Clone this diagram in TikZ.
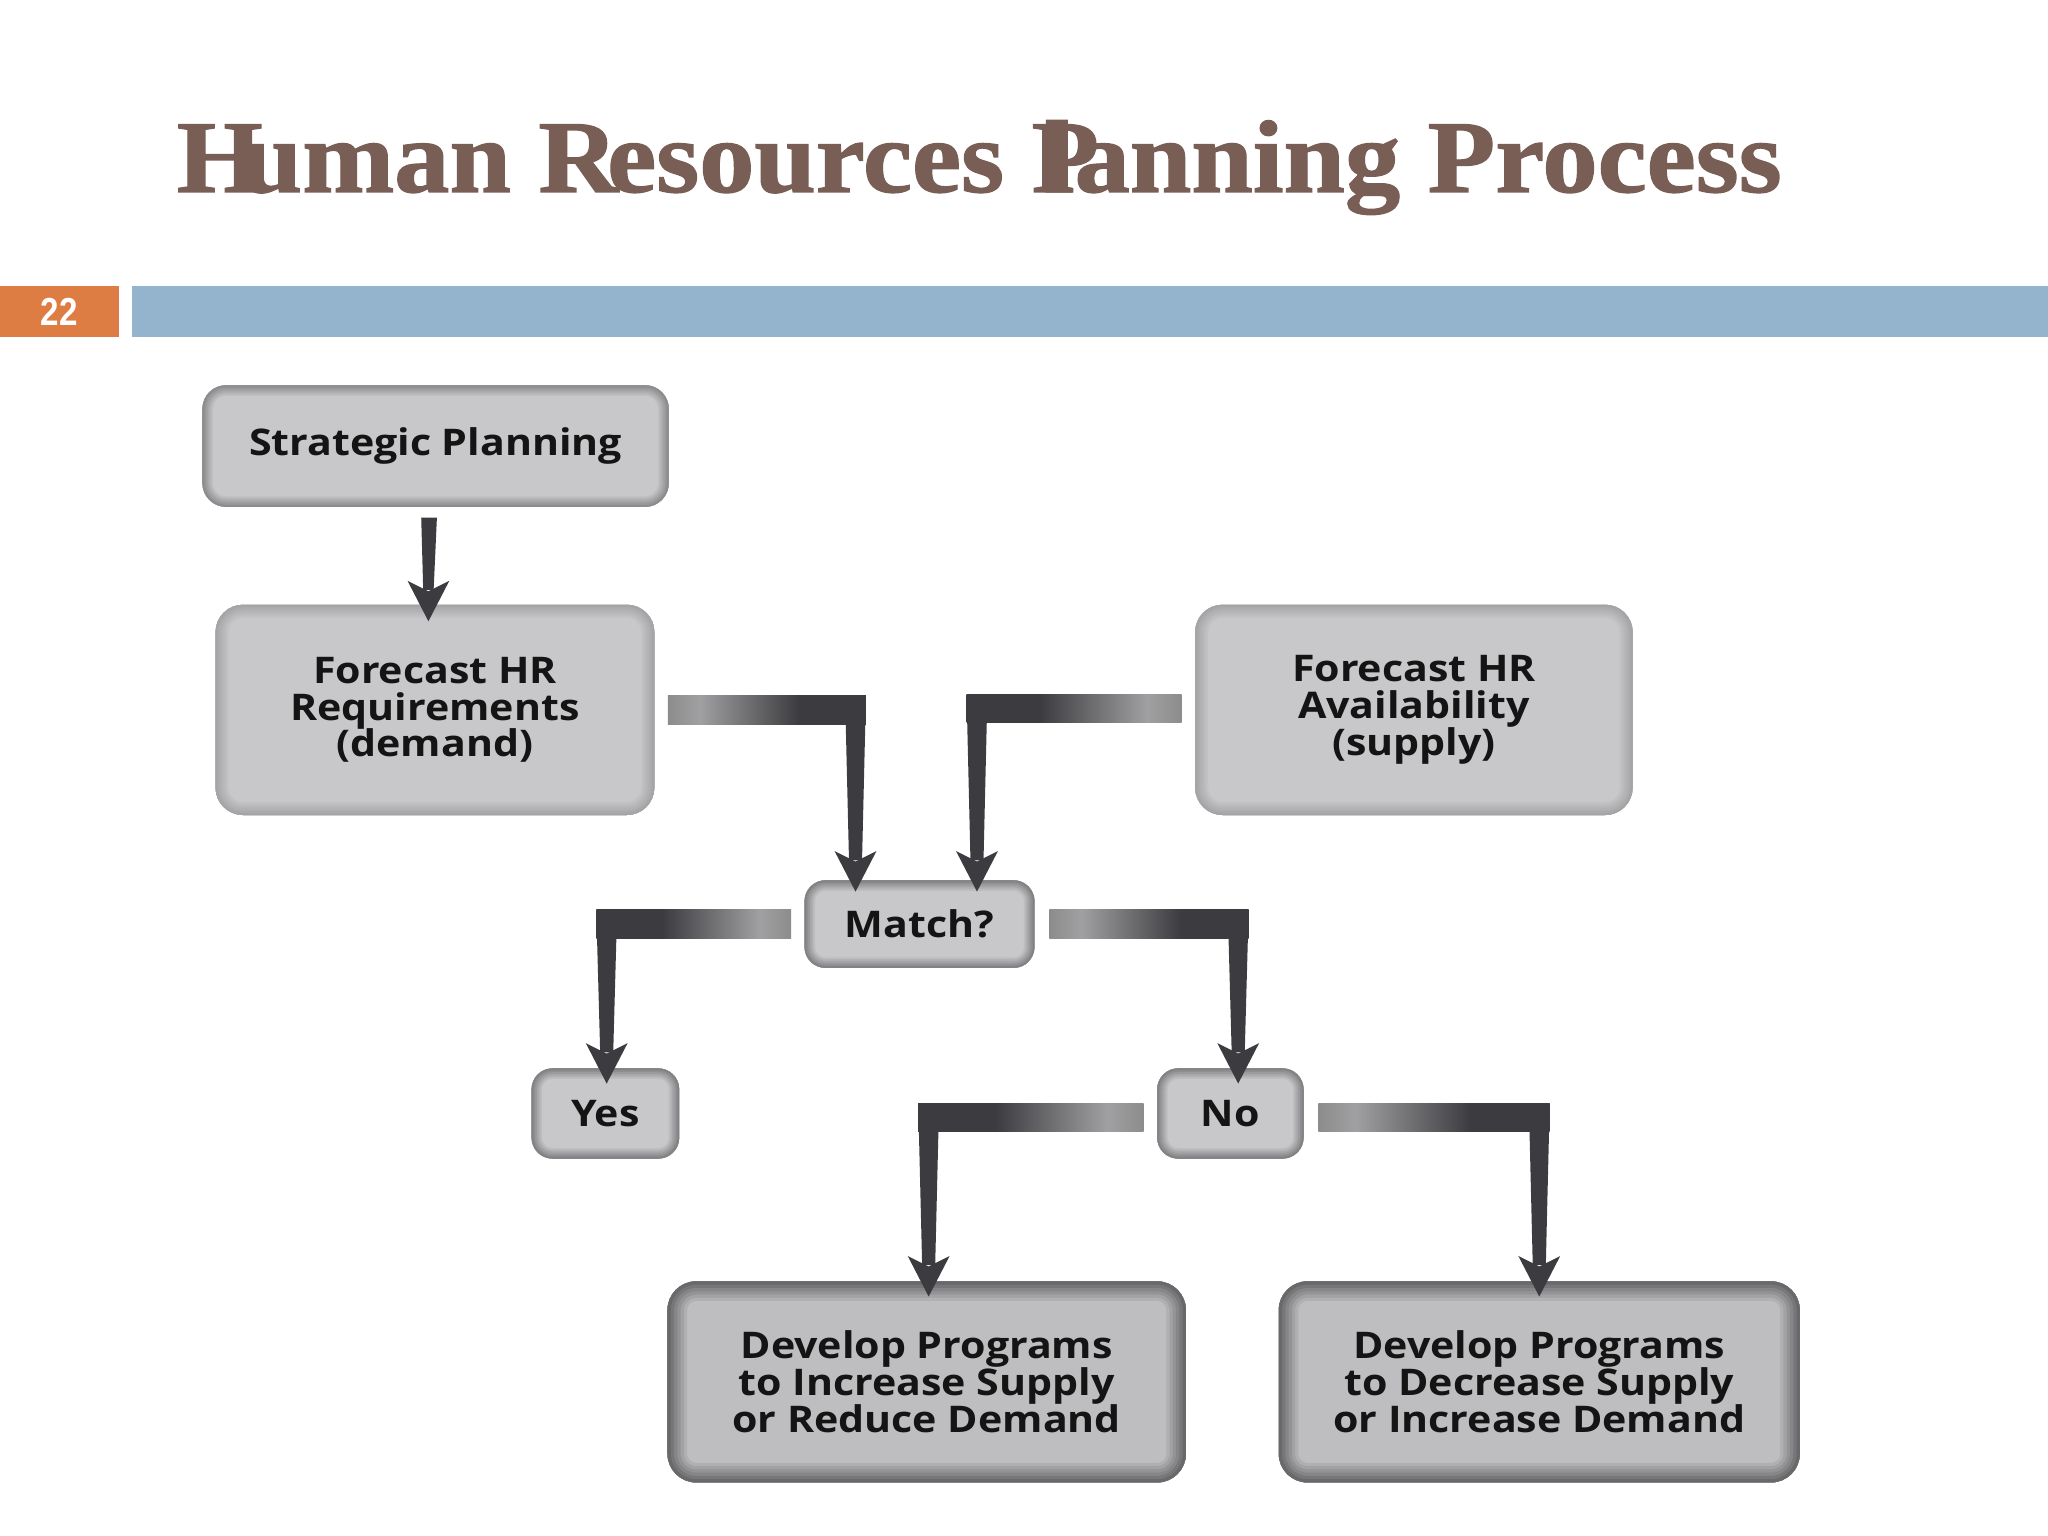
\documentclass[tikz,border=0pt]{standalone}
\usepackage{fontspec}
\setmainfont{Open Sans}
\newfontfamily\boxfont[FakeStretch=1.12]{Open Sans}
\newfontfamily\titlefont[FakeBold=1.2]{Liberation Serif}
\newfontfamily\numfont{Liberation Sans}
\usetikzlibrary{calc}
\definecolor{titlebrown}{RGB}{120,94,84}
\definecolor{orng}{RGB}{222,125,67}
\definecolor{barblue}{RGB}{148,180,206}
\definecolor{boxfill}{RGB}{200,200,202}
\definecolor{devfill}{RGB}{190,190,192}
\definecolor{arrowdark}{RGB}{60,60,64}
\definecolor{barA}{RGB}{140,140,140}
\definecolor{barB}{RGB}{160,160,162}
\definecolor{edgeSP}{RGB}{140,140,142}
\definecolor{edgeFC}{RGB}{165,165,167}
\definecolor{edgeSM}{RGB}{130,130,132}
\definecolor{edgeDV}{RGB}{105,105,107}
\pgfdeclarehorizontalshading{barR}{100bp}{color(0bp)=(barA); color(25bp)=(barA); color(33bp)=(barB); color(58bp)=(arrowdark); color(100bp)=(arrowdark)}
\pgfdeclarehorizontalshading{barL}{100bp}{color(0bp)=(arrowdark); color(42bp)=(arrowdark); color(67bp)=(barB); color(75bp)=(barA); color(100bp)=(barA)}
\tikzset{
  boxtext/.style={inner sep=0pt, align=center, text=black!92,
    font={\boxfont\bfseries\fontsize{16}{16}\selectfont}},
  % #1 edge colour, #2 fill colour, #3 bevel depth (cm), #4 corner radius (cm)
  bevelbox/.style n args={4}{boxtext, fill=#2, rounded corners=#4,
    path picture={
      \foreach \f [evaluate=\f as \lw using (7-\f)*#3/3,
                   evaluate=\f as \pc using int(\f*100/6)] in {1,...,6}{
        \draw[line width=\lw cm, draw=#1!\pc!#2, rounded corners=#4]
          (path picture bounding box.south west) rectangle (path picture bounding box.north east);
      }
    }},
}
\newcommand{\elbowarrow}[4]{%
  \shade[shading=#4] ($(#1)+(0,-11)$) -- ($(#2|-#1)+({#3*8},-11)$) -- ($(#2|-#1)+({#3*8},11)$) -- ($(#1)+(0,11)$) -- cycle;
  \fill[arrowdark] ($(#2|-#1)+(-8,-11)$) -- ($(#2|-#1)+(8,-11)$) -- ($(#2)+(5,-24)$) -- ($(#2)+(-5,-24)$) -- cycle;
  \fill[arrowdark] (#2) -- ($(#2)+(-16,-31)$) -- ($(#2)+(0,-23)$) -- ($(#2)+(16,-31)$) -- cycle;
}
\begin{document}
\begin{tikzpicture}[x=0.02cm, y=-0.02cm]
\useasboundingbox (0,0) rectangle (1568,1176);
\fill[white] (0,0) rectangle (1568,1176);

% title and header bar
\node[anchor=base west, inner sep=0pt, text=titlebrown,
  font={\titlefont\bfseries\fontsize{45}{45}\selectfont}] (title) at (135,147)
  {\scalebox{1.07}[1]{H\kern-.2em uman R\kern-.1em esources P\kern-.5em lanning Process}};
\node[fill=orng, minimum width=1.82cm, minimum height=0.78cm, inner sep=0pt,
  text=white, font={\numfont\bfseries\fontsize{17}{17}\selectfont}] (num) at (45.5,238.5)
  {\scalebox{0.85}[1]{22}};
\node[fill=barblue, minimum width=29.34cm, minimum height=0.78cm, inner sep=0pt] (bar) at (834.5,238.5) {};

% boxes
\node[bevelbox={edgeSP}{boxfill}{0.16}{0.36cm}, minimum width=7.14cm, minimum height=1.86cm] (sp) at (333.5,341.5) {Strategic Planning};
\node[bevelbox={edgeFC}{boxfill}{0.2}{0.42cm}, minimum width=6.72cm, minimum height=3.22cm] (fr) at (333,543.5) {Forecast HR\\Requirements\\(demand)};
\node[bevelbox={edgeFC}{boxfill}{0.2}{0.42cm}, minimum width=6.70cm, minimum height=3.22cm] (fa) at (1082.5,543.5) {Forecast HR\\Availability\\(supply)};
\node[bevelbox={edgeSM}{boxfill}{0.16}{0.32cm}, minimum width=3.52cm, minimum height=1.34cm] (match) at (704,707.5) {Match?};
\node[bevelbox={edgeSM}{boxfill}{0.16}{0.32cm}, minimum width=2.26cm, minimum height=1.38cm] (yes) at (463.5,852.5) {Yes};
\node[bevelbox={edgeSM}{boxfill}{0.16}{0.32cm}, minimum width=2.24cm, minimum height=1.38cm] (no) at (942,852.5) {No};
\node[bevelbox={edgeDV}{devfill}{0.3}{0.44cm}, minimum width=7.94cm, minimum height=3.08cm] (d1) at (709.5,1058) {Develop Programs\\to Increase Supply\\or Reduce Demand};
\node[bevelbox={edgeDV}{devfill}{0.3}{0.44cm}, minimum width=7.98cm, minimum height=3.08cm] (d2) at (1178.5,1058) {Develop Programs\\to Decrease Supply\\or Increase Demand};

% arrows
\coordinate (aS) at ($(sp.south)+(-5,8)$);
\coordinate (aT) at ($(fr.north)+(-5,13)$);
\fill[arrowdark] ($(aS)+(-6,0)$) -- ($(aS)+(6,0)$) -- ($(aT)+(4,-24)$) -- ($(aT)+(-4,-24)$) -- cycle;
\fill[arrowdark] (aT) -- ($(aT)+(-16,-31)$) -- ($(aT)+(0,-23)$) -- ($(aT)+(16,-31)$) -- cycle;

\coordinate (bS) at ($(fr.east)+(10,0)$);
\coordinate (bT) at ($(match.north)+(-49,9)$);
\elbowarrow{bS}{bT}{1}{barR}
\coordinate (cS) at ($(fa.west)+(-10,-1)$);
\coordinate (cT) at ($(match.north)+(44,9)$);
\elbowarrow{cS}{cT}{-1}{barL}
\coordinate (dS) at ($(match.west)+(-10,0)$);
\coordinate (dT) at ($(yes.north)+(1,12)$);
\elbowarrow{dS}{dT}{-1}{barL}
\coordinate (eS) at ($(match.east)+(11,0)$);
\coordinate (eT) at ($(no.north)+(6,12)$);
\elbowarrow{eS}{eT}{1}{barR}
\coordinate (fS) at ($(no.west)+(-10,3)$);
\coordinate (fT) at ($(d1.north)+(1.5,12)$);
\elbowarrow{fS}{fT}{-1}{barL}
\coordinate (gS) at ($(no.east)+(11,3)$);
\coordinate (gT) at ($(d2.north)+(0,12)$);
\elbowarrow{gS}{gT}{1}{barR}
\end{tikzpicture}
\end{document}
